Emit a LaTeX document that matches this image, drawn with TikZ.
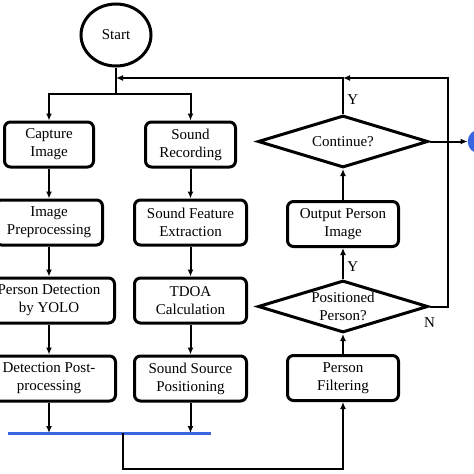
\documentclass[tikz,border=0pt]{standalone}
\usepackage{fontspec}
\setmainfont{Liberation Serif}
\usetikzlibrary{
  arrows.meta,
  positioning,
  shapes.geometric
}
\definecolor{bus-blue}{RGB}{58,102,224}

\begin{document}
\begin{tikzpicture}[
  x=1pt, y=-1pt,
  node distance=30pt,
  font=\fontsize{15}{18}\selectfont,
  process/.style={
    rectangle,
    draw,
    line width=3pt,
    rounded corners=6pt,
    align=center,
    minimum height=45pt,
    inner sep=2pt
  },
  decision/.style={
    diamond,
    draw,
    line width=3pt,
    aspect=3.1,
    inner sep=0pt,
    align=center,
    minimum width=170pt,
    minimum height=52pt
  },
  flow/.style={
    line width=2pt,
    -{Latex[length=7pt,width=6pt]}
  },
  link/.style={line width=2pt}
]

\useasboundingbox (0,0) rectangle (474,474);

\node [ellipse, draw, line width=3pt, minimum width=70pt, minimum height=62pt] (start) at (116,35) {Start};

% image branch
\node [process, minimum width=89pt] (capture-image) at (49,144.5) {Capture\\Image};
\node [process, minimum width=107pt, below=of capture-image] (image-preprocessing) {Image\\Preprocessing};
\node [process, minimum width=131pt, below=of image-preprocessing] (person-detection) {Person Detection\\by YOLO};
\node [process, minimum width=133pt, below=of person-detection] (detection-post) {Detection Post-\\processing};

% sound branch
\node [process, minimum width=90pt] (sound-recording) at (190.5,144.5) {Sound\\Recording};
\node [process, minimum width=112pt, below=of sound-recording] (sound-feature) {Sound Feature\\Extraction};
\node [process, minimum width=112pt, below=of sound-feature] (tdoa-calculation) {TDOA\\Calculation};
\node [process, minimum width=112pt, below=of tdoa-calculation] (source-positioning) {Sound Source\\Positioning};

% fusion branch
\node [process, minimum width=111pt] (person-filtering) at (343,378) {Person\\Filtering};
\node [decision, above=20pt of person-filtering] (positioned-person) {Positioned\\Person?};
\node [process, minimum width=111pt, above=31pt of positioned-person] (output-image) {Output Person\\Image};
\node [decision, above=31pt of output-image] (continue) {Continue?};
\node [circle, fill=bus-blue, minimum size=24pt, inner sep=0pt, right=38pt of continue] (end) {};

\coordinate (split) at (116,94);
\coordinate (merge) at (116,78);
\coordinate (loop-corner) at (448,78);
\coordinate (bus) at (123,433);
\coordinate (bus-drop) at (123,469);

\draw [bus-blue, line width=3pt] (8,433) -- (211,433);

\draw [link] (start) -- (split);
\draw [flow] (split) -| (capture-image);
\draw [flow] (split) -| (sound-recording);

\draw [flow] (capture-image) -- (image-preprocessing);
\draw [flow] (image-preprocessing) -- (person-detection);
\draw [flow] (person-detection) -- (detection-post);
\draw [flow] (detection-post) -- (detection-post |- bus);

\draw [flow] (sound-recording) -- (sound-feature);
\draw [flow] (sound-feature) -- (tdoa-calculation);
\draw [flow] (tdoa-calculation) -- (source-positioning);
\draw [flow] (source-positioning) -- (source-positioning |- bus);

\draw [flow] (bus) -- (bus-drop) -| (person-filtering);
\draw [flow] (person-filtering) -- (positioned-person);
\draw [flow] (positioned-person) -- (output-image) node [pos=0.4, right] (yes-output) {Y};
\draw [flow] (output-image) -- (continue);
\draw [flow] (continue) -- (continue.north |- merge) node [pos=0.4, right] (yes-continue) {Y} -- (merge);
\draw [flow] (positioned-person.east) -| (loop-corner) -- (continue.north |- merge);
\draw [flow] (continue) -- (end);

\node [below=8pt of positioned-person.east] (no-label) {N};

\end{tikzpicture}
\end{document}
